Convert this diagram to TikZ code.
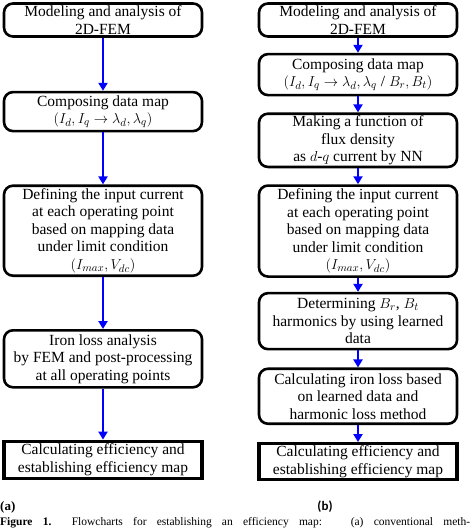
\documentclass[tikz,border=0pt]{standalone}
\usepackage{fontspec}
\setmainfont{Liberation Serif}
\setsansfont{Carlito}
\usetikzlibrary{arrows.meta,positioning}
\tikzset{
  stepbox/.style={
    draw=black,
    line width=2.6pt,
    rounded corners=9pt,
    minimum width=198pt,
    inner xsep=2pt,
    inner ysep=2pt,
    align=center,
    font={\fontsize{15.5}{17.5}\selectfont},
  },
  endbox/.style={
    stepbox,
    rounded corners=0pt,
    line width=3.4pt,
  },
  flow/.style={
    draw=blue,
    line width=2.4pt,
    -{Triangle[length=8pt,width=9pt]},
  },
}

\begin{document}
\begin{tikzpicture}[x=1pt,y=1pt]
  \useasboundingbox (0,0) rectangle (474,-528);
  %% (a) conventional
  \node (femA) [stepbox, minimum height=33pt] at (103,-20) {Modeling and analysis of\\2D-FEM};
  \node (mapA) [stepbox, minimum height=39pt, below=53pt of femA] {Composing data map\\$(I_d, I_q \rightarrow \lambda_d, \lambda_q)$};
  \node (inputA) [stepbox, minimum height=90pt, below=52pt of mapA] {Defining the input current\\at each operating point\\based on mapping data\\under limit condition\\$(I_{max}, V_{dc})$};
  \node (ironA) [stepbox, minimum height=57pt, below=52pt of inputA] {Iron loss analysis\\by FEM and post-processing\\at all operating points};
  \node (effA) [endbox, minimum height=37pt, below=51pt of ironA] {Calculating efficiency and\\establishing efficiency map};
  %%
  \draw [flow] (femA) -- (mapA);
  \draw [flow] (mapA) -- (inputA);
  \draw [flow] (inputA) -- (ironA);
  \draw [flow] (ironA) -- (effA);
  %% (b) proposed
  \node (femB) [stepbox, minimum height=33pt] at (358,-20) {Modeling and analysis of\\2D-FEM};
  \node (mapB) [stepbox, minimum height=41pt, below=15pt of femB] {Composing data map\\$(I_d, I_q \rightarrow \lambda_d, \lambda_q$ / $B_r, B_t)$};
  \node (nnB) [stepbox, minimum height=51pt, below=16pt of mapB] {Making a function of\\flux density\\as $d$-$q$ current by NN};
  \node (inputB) [stepbox, minimum height=91pt, below=16pt of nnB] {Defining the input current\\at each operating point\\based on mapping data\\under limit condition\\$(I_{max}, V_{dc})$};
  \node (harmB) [stepbox, minimum height=56pt, below=14pt of inputB] {Determining $B_r$, $B_t$\\harmonics by using learned\\data};
  \node (ironB) [stepbox, minimum height=55pt, below=17pt of harmB] {Calculating iron loss based\\on learned data and\\harmonic loss method};
  \node (effB) [endbox, minimum height=36pt, below=17pt of ironB] {Calculating efficiency and\\establishing efficiency map};
  %%
  \draw [flow] (femB) -- (mapB);
  \draw [flow] (mapB) -- (nnB);
  \draw [flow] (nnB) -- (inputB);
  \draw [flow] (inputB) -- (harmB);
  \draw [flow] (harmB) -- (ironB);
  \draw [flow] (ironB) -- (effB);
  %% sub-figure labels and caption
  \node (labelA) [anchor=west, inner sep=0pt, font={\bfseries\fontsize{13}{15}\selectfont}] at (0,-507) {(a)};
  \node (labelB) [inner sep=0pt, font={\sffamily\bfseries\fontsize{13}{15}\selectfont}] at (325,-507) {(b)};
  \node (caption) [anchor=base west, inner sep=0pt, font={\fontsize{11.5}{14}\selectfont}] at (0,-525.5) {\makebox[470pt][s]{\textbf{Figure 1.}\ \ Flowcharts for establishing an efficiency map: \ (a) conventional meth-}};
\end{tikzpicture}
\end{document}
